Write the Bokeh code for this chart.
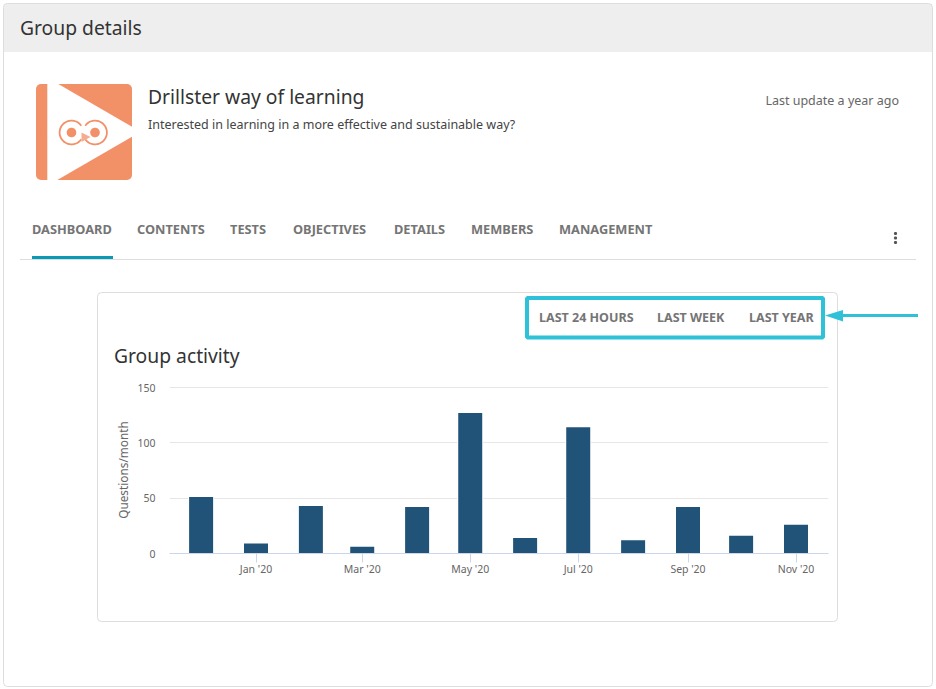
import math
from datetime import datetime, timezone
from bokeh.plotting import figure
from bokeh.models import Label, BoxAnnotation, PolyAnnotation, Range1d, FixedTicker
from bokeh.embed import file_html
from bokeh.resources import INLINE

# ---- data ----
months = ["2019-12-01", "2020-01-01", "2020-02-01", "2020-03-01", "2020-04-01", "2020-05-01",
          "2020-06-01", "2020-07-01", "2020-08-01", "2020-09-01", "2020-10-01", "2020-11-01"]
questions = [51, 9, 43, 6, 42, 127, 14, 114, 12, 42, 16, 26]
tick_months = ["2020-01-01", "2020-03-01", "2020-05-01", "2020-07-01", "2020-09-01", "2020-11-01"]
tick_labels = ["Jan '20", "Mar '20", "May '20", "Jul '20", "Sep '20", "Nov '20"]
y_ticks = [0, 50, 100, 150]
tabs = ["DASHBOARD", "CONTENTS", "TESTS", "OBJECTIVES", "DETAILS", "MEMBERS", "MANAGEMENT"]
periods = ["LAST 24 HOURS", "LAST WEEK", "LAST YEAR"]


def ms(s):
    return datetime.strptime(s, "%Y-%m-%d").replace(tzinfo=timezone.utc).timestamp() * 1000


DAY = 86400000.0
W, H = 936, 689
FL, FR, FT, FB = 169, 828, 386, 553   # plot frame edges on the page
FONT = "Noto Sans"
px_per_day = 540.0 / 305.0
jan1 = ms("2020-01-01")
x_start = jan1 + (FL - 255.5) / px_per_day * DAY
x_end = jan1 + (FR - 255.5) / px_per_day * DAY
y_end = 150 * (FB - FT) / 166.0     # 150 sits 166 px above zero; one spare px keeps its grid line visible

# page furniture: a full-bleed figure whose data units are page pixels
c = figure(width=W, height=H, output_backend="svg", toolbar_location=None,
           x_axis_type=None, y_axis_type=None,
           x_range=Range1d(0.5, W + 0.5), y_range=Range1d(H + 0.5, 0.5),
           min_border=0, outline_line_color=None,
           background_fill_color="white", border_fill_color="white")


def box(l, t, r, b, fill=None, line=None, lw=1, radius=0):
    c.add_layout(BoxAnnotation(left=l, right=r, top=t, bottom=b,
                               fill_color=fill, fill_alpha=1 if fill else 0,
                               line_color=line, line_alpha=1 if line else 0, line_width=lw,
                               border_radius=radius))


def poly(xs, ys, fill):
    c.add_layout(PolyAnnotation(xs=xs, ys=ys, fill_color=fill, fill_alpha=1, line_color=None))


def text(x, y, s, size, color, align="left", style="normal", font=FONT):
    # Label's alphabetic anchor lands about 0.4 em below the requested y here
    c.add_layout(Label(x=x, y=y - 0.4 * size, text=s, text_font=font,
                       text_font_size=f"{size}px", text_color=color, text_align=align,
                       text_font_style=style, text_baseline="alphabetic"))


ORANGE = "#f29068"
# page card
box(4, 4, 932, 52, fill="#eeeeee")
box(3.5, 3.5, 932.5, 686.5, line="#dddddd", radius=4)
text(20, 35, "Group details", 19.3, "#333333")

# logo
box(36, 84, 132, 180, fill=ORANGE, radius=5)
poly([47.3, 58.3, 132, 132, 57.3, 47.3], [84, 84, 126.7, 136.7, 180, 180], "white")


def ring(cx, cy, r0, r1, a0, a1, color=ORANGE):
    n = 40
    ang = [a0 + (a1 - a0) * i / n for i in range(n + 1)]
    xs = [cx + r1 * math.cos(a) for a in ang] + [cx + r0 * math.cos(a) for a in reversed(ang)]
    ys = [cy - r1 * math.sin(a) for a in ang] + [cy - r0 * math.sin(a) for a in reversed(ang)]
    poly(xs, ys, color)


ring(71.5, 132.5, 11, 12.8, math.radians(35), math.radians(325))
ring(95, 132.5, 11, 12.8, math.radians(-145), math.radians(145))
ring(71.5, 132.5, 0, 4.8, 0, 2 * math.pi)
ring(95, 132.5, 0, 4.8, 0, 2 * math.pi)
poly([81.5, 81.5, 90.5], [132.5, 142, 137], "#f5ad8f")

# header
text(148, 104, "Drillster way of learning", 19.3, "#333333")
text(148, 129, "Interested in learning in a more effective and sustainable way?", 12.5, "#444444")
text(899, 105, "Last update a year ago", 12.5, "#666666", align="right")

# tabs
tab_x = [32, 137, 230, 293, 394, 471, 559]
for x, s in zip(tab_x, tabs):
    text(x, 234, s, 12.8, "#757575", style="bold")
box(20, 259, 916, 260, fill="#dddddd")
box(32, 256, 113, 259, fill="#0a9ab5")
for cy in (233.5, 238, 242.5):
    ring(895.5, cy, 0, 1.6, 0, 2 * math.pi, "#555555")

# chart card
box(97.5, 292.5, 837.5, 621.5, line="#dddddd", radius=4)
box(527, 298, 823, 337.5, line="#2ec1d8", lw=4)
period_x = [539, 657, 749]
for x, s in zip(period_x, periods):
    text(x, 322, s, 12.5, "#757575", style="bold")
# arrow
box(842, 314, 918, 317, fill="#2ec1d8")
poly([825, 843, 843], [315.5, 310, 321.5], "#2ec1d8")
text(114, 363, "Group activity", 19.3, "#333333")

# chart, laid over the page figure
p = figure(width=W, height=H, output_backend="svg", toolbar_location=None,
           x_axis_type="datetime",
           x_range=Range1d(x_start, x_end), y_range=Range1d(0, y_end),
           min_border_left=FL, min_border_right=W - FR,
           min_border_top=FT, min_border_bottom=H - FB,
           outline_line_color=None, background_fill_color=None,
           border_fill_color=None, margin=(-H, 0, 0, 0))

bar_x = [ms(m) for m in months]
# white halo that interrupts the grid lines, then the bar itself
p.vbar(x=bar_x, top=questions, bottom=0, width=24 / px_per_day * DAY,
       fill_color="white", line_color="white", line_width=2)
p.vbar(x=bar_x, top=questions, bottom=0, width=24 / px_per_day * DAY,
       fill_color="#215378", line_color=None)

p.yaxis.axis_label = "Questions/month"
p.yaxis.axis_label_text_font = FONT
p.yaxis.axis_label_text_font_size = "11.8px"
p.yaxis.axis_label_text_font_style = "normal"
p.yaxis.axis_label_text_color = "#666666"
p.yaxis.axis_label_standoff = 3
p.yaxis.axis_line_color = None
p.yaxis.major_tick_line_color = None
p.yaxis.minor_tick_line_color = None
p.yaxis.ticker = FixedTicker(ticks=y_ticks)
p.yaxis.major_label_text_font = FONT
p.yaxis.major_label_text_font_size = "10.5px"
p.yaxis.major_label_text_color = "#666666"
p.yaxis.major_label_standoff = 8

p.xaxis.ticker = FixedTicker(ticks=[ms(m) for m in tick_months])
p.xaxis.major_label_overrides = {ms(m): l for m, l in zip(tick_months, tick_labels)}
p.xaxis.axis_line_color = "#ccd6eb"
p.xaxis.major_tick_line_color = "#ccd6eb"
p.xaxis.major_tick_in = 0
p.xaxis.major_tick_out = 9
p.xaxis.minor_tick_line_color = None
p.xaxis.major_label_text_font = FONT
p.xaxis.major_label_text_font_size = "10.5px"
p.xaxis.major_label_text_color = "#666666"
p.xaxis.major_label_standoff = -1

p.xgrid.grid_line_color = None
p.ygrid.grid_line_color = "#e6e6e6"
p.ygrid.ticker = FixedTicker(ticks=y_ticks)

open("out.html", "w").write(file_html((c, p), INLINE))
